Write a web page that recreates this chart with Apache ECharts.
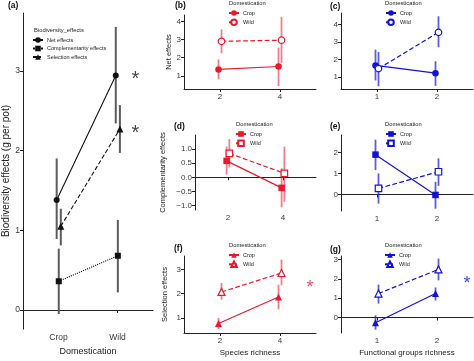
<!DOCTYPE html>
<html><head><meta charset="utf-8">
<script src="https://cdn.jsdelivr.net/npm/echarts@6/dist/echarts.min.js"></script>
<style>html,body{margin:0;padding:0;background:#fff}#c{width:474px;height:361px}</style>
</head><body><div id="c"></div>
<script>
// ---------- DATA ----------
// Panel (a): Biodiversity effects by domestication
const domCats = ['Crop', 'Wild'];
const netMean = [1.38, 2.94], netLo = [0.89, 2.34], netHi = [1.90, 3.55];
const compMean = [0.36, 0.68], compLo = [-0.05, 0.22], compHi = [0.77, 1.13];
const selMean = [1.05, 2.27], selLo = [0.81, 1.97], selHi = [1.27, 2.57];
const starsA = [2.94, 2.27];

// Species richness panels (b, d, f)
const spCats = ['2', '4'];
const fgCats = ['1', '2'];
// (b) net effects vs species richness
const bCrop = [1.35, 1.51], bCropLo = [0.80, 0.43], bCropHi = [1.90, 2.55];
const bWild = [2.90, 2.96], bWildLo = [2.24, 1.70], bWildHi = [3.56, 4.25];
// (c) net effects vs functional groups richness
const cCrop = [1.66, 1.22], cCropLo = [0.80, 0.49], cCropHi = [2.57, 1.90];
const cWild = [1.48, 3.56], cWildLo = [0.47, 2.70], cWildHi = [2.44, 4.48];
// (d) complementarity effects vs species richness
const dCrop = [0.58, -0.37], dCropLo = [0.10, -1.06], dCropHi = [1.08, 0.32];
const dWild = [0.84, 0.14], dWildLo = [0.35, -0.86], dWildHi = [1.35, 1.08];
// (e) complementarity effects vs functional groups richness
const eCrop = [1.89, -0.02], eCropLo = [1.16, -0.67], eCropHi = [2.60, 0.60];
const eWild = [0.29, 1.08], eWildLo = [-0.43, 0.41], eWildHi = [1.00, 1.71];
// (f) selection effects vs species richness
const fCrop = [0.77, 1.86], fCropLo = [0.53, 1.36], fCropHi = [1.00, 2.37];
const fWild = [2.07, 2.85], fWildLo = [1.75, 2.34], fWildHi = [2.44, 3.40];
const starF = [2.5, 2.38];
// (g) selection effects vs functional groups richness
const gCrop = [-0.26, 1.24], gCropLo = [-0.62, 0.88], gCropHi = [0.12, 1.55];
const gWild = [1.24, 2.48], gWildLo = [0.72, 1.92], gWildHi = [1.70, 3.04];
const starG = [2.5, 1.92];

// y tick values per panel
const ticksA = [0, 1, 2, 3];
const ticksB = [1, 2, 3, 4];
const ticksC = [1, 2, 3, 4];
const ticksD = [-1, -0.5, 0, 0.5, 1];
const ticksE = [0, 1, 2];
const ticksF = [1, 2, 3];
const ticksG = [0, 1, 2, 3];

// ---------- STYLE / LAYOUT ----------
const FONT = '"Liberation Sans", Arial, Helvetica, sans-serif';
const RED = '#e8192c', RED_ERR = 'rgba(232,40,60,0.6)';
const BLUE = '#1212d4', BLUE_ERR = 'rgba(30,30,210,0.72)';
const AXC = '#222', TXC = '#3a3a3a';

const grids = [], xAxes = [], yAxes = [], series = [], legends = [], titles = [];

function fmtY(v) {
  if (Number.isInteger(v)) return String(v);
  return v.toFixed(1);
}
function addAxes(g, ymin, ymax, yticks, cats, yName, yGap, xName, decimals, labelSize) {
  grids.push(g);
  const idx = grids.length - 1;
  xAxes.push({
    type: 'value', gridIndex: idx, min: 0.4, max: 2.6,
    axisLine: { show: true, lineStyle: { color: AXC, width: 1 } },
    axisTick: { show: true, length: 3, customValues: [1, 2], lineStyle: { color: AXC } },
    axisLabel: { show: true, customValues: [1, 2], formatter: v => cats[Math.round(v) - 1], color: TXC, fontFamily: FONT, fontSize: labelSize, margin: 4 },
    splitLine: { show: false },
    name: xName || '', nameLocation: 'middle', nameGap: xName ? 16 : 0,
    nameTextStyle: { color: '#222', fontFamily: FONT, fontSize: idx === 0 ? 9 : 8 }
  });
  yAxes.push({
    type: 'value', gridIndex: idx, min: ymin, max: ymax,
    axisLine: { show: true, lineStyle: { color: AXC, width: 1 } },
    axisTick: { show: true, length: 3, customValues: yticks, lineStyle: { color: AXC } },
    axisLabel: { show: true, customValues: yticks, formatter: v => (decimals ? v.toFixed(1).replace('-', '\u2212') : fmtY(v)), color: TXC, fontFamily: FONT, fontSize: labelSize, margin: 3 },
    splitLine: { show: false },
    name: yName || '', nameLocation: 'middle', nameGap: yGap || 0,
    nameTextStyle: { color: '#222', fontFamily: FONT, fontSize: idx === 0 ? 10 : 7.5 }
  });
  return idx;
}

function errSeries(idx, xs, lo, hi, color, width, z) {
  return {
    type: 'custom', xAxisIndex: idx, yAxisIndex: idx, z: z || 2, silent: true,
    data: xs.map((x, i) => [x, lo[i], hi[i]]),
    encode: { x: 0, y: [1, 2] },
    renderItem: (params, api) => {
      const p1 = api.coord([api.value(0), api.value(1)]);
      const p2 = api.coord([api.value(0), api.value(2)]);
      return { type: 'line', shape: { x1: p1[0], y1: p1[1], x2: p2[0], y2: p2[1] }, style: { stroke: color, lineWidth: width } };
    }
  };
}
function lineSeries(idx, name, xs, ys, color, symbol, open, ltype, size, lw) {
  return {
    type: 'line', name, xAxisIndex: idx, yAxisIndex: idx, z: 3,
    data: xs.map((x, i) => [x, ys[i]]),
    symbol, symbolSize: size, showSymbol: true,
    itemStyle: { color: open ? '#fff' : color, borderColor: color, borderWidth: open ? 1.2 : 0 },
    lineStyle: { color, type: ltype, width: lw },
    emphasis: { disabled: true }, animation: false
  };
}
function starSeries(idx, pos, color, size) {
  return {
    type: 'scatter', xAxisIndex: idx, yAxisIndex: idx, z: 5, silent: true,
    data: [pos], symbolSize: 1, itemStyle: { color: 'rgba(0,0,0,0)' },
    label: { show: true, formatter: '*', position: 'inside', color, fontSize: size, fontFamily: FONT, offset: [0, size * 0.22] }
  };
}

// ---------- PANEL (a) ----------
const ia = addAxes({ left: 23, top: 13, width: 130, height: 318 }, -0.24, 3.725, ticksA, domCats,
  'Biodiversity effects (g per pot)', 12, 'Domestication', false, 8.5);
xAxes[ia].nameGap = 17;
const xa = [1, 2];
const BLK = '#111', GERR = '#5c5c5c';
series.push(errSeries(ia, xa.map(x => x - 0.03), netLo, netHi, GERR, 2));
series.push(errSeries(ia, xa.map(x => x + 0.005), compLo, compHi, GERR, 2));
series.push(errSeries(ia, xa.map(x => x + 0.04), selLo, selHi, GERR, 2));
series.push(lineSeries(ia, 'Net effects', xa.map(x => x - 0.03), netMean, BLK, 'circle', false, 'solid', 6, 1.1));
series.push(lineSeries(ia, 'Complementarity effects', xa.map(x => x + 0.005), compMean, BLK, 'rect', false, 'dotted', 6, 1.1));
series.push(lineSeries(ia, 'Selection effects', xa.map(x => x + 0.04), selMean, BLK, 'triangle', false, 'dashed', 7, 1.1));
series.push(starSeries(ia, [2.3, starsA[0]], '#111', 20));
series.push(starSeries(ia, [2.3, starsA[1]], '#111', 20));
legends.push({
  left: 32, top: 37, orient: 'vertical', padding: 0, itemGap: 2.5, itemWidth: 10, itemHeight: 7,
  data: ['Net effects', 'Complementarity effects', 'Selection effects'],
  textStyle: { fontSize: 5.5, fontFamily: FONT, color: '#222', padding: [0, 0, 0, -1] }, selectedMode: false
});
titles.push({ text: 'Biodiversity_effects', left: 34, top: 27, padding: 0, textStyle: { fontSize: 5.8, fontWeight: 'normal', fontFamily: FONT, color: '#222' } });

// ---------- PANELS (b)-(g) ----------
const panels = [
  { key: 'b', g: { left: 184, top: 15, width: 132, height: 74 }, y: [0.27, 4.35], t: ticksB, cats: spCats, yName: 'Net effects', yGap: 11, crop: [bCrop, bCropLo, bCropHi], wild: [bWild, bWildLo, bWildHi], col: RED, err: RED_ERR, sym: 'circle', lx: 228, ly: 10, tx: 229, ty: 0 },
  { key: 'c', g: { left: 341, top: 13, width: 132, height: 76 }, y: [0.31, 4.67], t: ticksC, cats: fgCats, crop: [cCrop, cCropLo, cCropHi], wild: [cWild, cWildLo, cWildHi], col: BLUE, err: BLUE_ERR, sym: 'circle', lx: 385, ly: 10, tx: 385, ty: 0 },
  { key: 'd', g: { left: 195, top: 135, width: 121, height: 75 }, y: [-1.15, 1.49], t: ticksD, dec: true, cats: spCats, yName: 'Complementarity effects', yGap: 28, crop: [dCrop, dCropLo, dCropHi], wild: [dWild, dWildLo, dWildHi], col: RED, err: RED_ERR, sym: 'rect', lx: 235, ly: 131, tx: 236, ty: 121 },
  { key: 'e', g: { left: 341, top: 135, width: 132, height: 76 }, y: [-0.78, 2.82], t: ticksE, cats: fgCats, crop: [eCrop, eCropLo, eCropHi], wild: [eWild, eWildLo, eWildHi], col: BLUE, err: BLUE_ERR, sym: 'rect', lx: 385, ly: 131, tx: 385, ty: 121 },
  { key: 'f', g: { left: 184, top: 256, width: 132, height: 77 }, y: [0.38, 3.55], t: ticksF, cats: spCats, yName: 'Selection effects', yGap: 15, xName: 'Species richness', crop: [fCrop, fCropLo, fCropHi], wild: [fWild, fWildLo, fWildHi], col: RED, err: RED_ERR, sym: 'triangle', lx: 228, ly: 252, tx: 229, ty: 242, star: starF },
  { key: 'g', g: { left: 341, top: 256, width: 132, height: 77 }, y: [-0.79, 3.17], t: ticksG, cats: fgCats, xName: 'Functional groups richness', crop: [gCrop, gCropLo, gCropHi], wild: [gWild, gWildLo, gWildHi], col: BLUE, err: BLUE_ERR, sym: 'triangle', lx: 384, ly: 252, tx: 385, ty: 242, star: starG }
];
panels.forEach(p => {
  const i = addAxes(p.g, p.y[0], p.y[1], p.t, p.cats, p.yName, p.yGap, p.xName, p.dec, 8);
  const xc = [1 - 0.025, 2 - 0.025], xw = [1 + 0.025, 2 + 0.025];
  const ssz = p.sym === 'triangle' ? 7 : (p.sym === 'rect' ? 6.5 : 6.5);
  series.push(errSeries(i, xc, p.crop[1], p.crop[2], p.err, 1.8));
  series.push(errSeries(i, xw, p.wild[1], p.wild[2], p.err, 1.8));
  series.push(lineSeries(i, p.key + '|Crop', xc, p.crop[0], p.col, p.sym, false, 'solid', ssz, 1.2));
  series.push(lineSeries(i, p.key + '|Wild', xw, p.wild[0], p.col, p.sym, true, 'dashed', ssz, 1.2));
  if (p.star) series.push(starSeries(i, p.star, p.col, 18));
  legends.push({
    left: p.lx, top: p.ly, orient: 'vertical', padding: 0, itemGap: 2.5, itemWidth: 10, itemHeight: 7,
    data: [p.key + '|Crop', p.key + '|Wild'], formatter: n => n.split('|')[1],
    textStyle: { fontSize: 5.5, fontFamily: FONT, color: '#222', padding: [0, 0, 0, -1] }, selectedMode: false
  });
  titles.push({ text: 'Domestication', left: p.tx, top: p.ty, padding: 0, textStyle: { fontSize: 5.8, fontWeight: 'normal', fontFamily: FONT, color: '#222' } });
});

// panel letters
const letters = [['(a)', 8, 1], ['(b)', 175, 1], ['(c)', 330, 2], ['(d)', 174, 122], ['(e)', 330, 122], ['(f)', 174, 244], ['(g)', 330, 245]];
letters.forEach(l => titles.push({ text: l[0], left: l[1], top: l[2], padding: 0, textStyle: { fontSize: 8.5, fontWeight: 'bold', fontFamily: FONT, color: '#111' } }));

const chart = echarts.init(document.getElementById('c'), null, { renderer: 'canvas' });
chart.setOption({
  animation: false, backgroundColor: '#fff',
  title: titles, legend: legends, grid: grids, xAxis: xAxes, yAxis: yAxes, series
});
</script></body></html>
